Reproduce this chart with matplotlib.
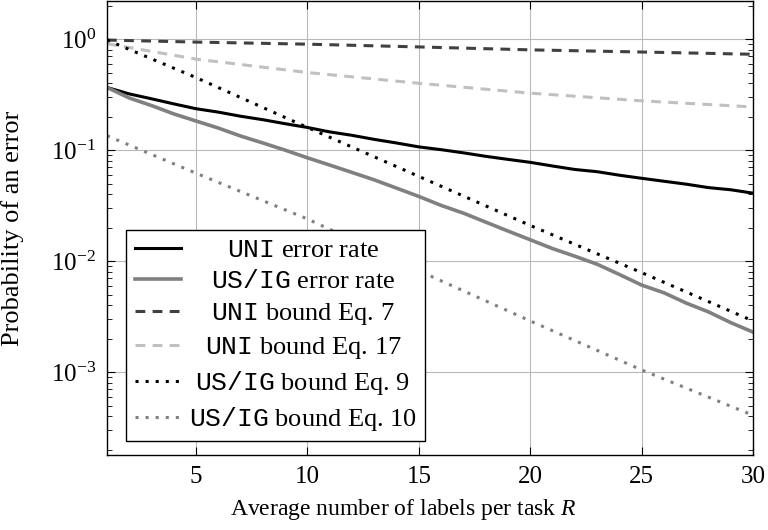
import numpy as np
import matplotlib
matplotlib.use('Agg')
import matplotlib.pyplot as plt
from matplotlib.offsetbox import TextArea
from matplotlib.transforms import Bbox
from matplotlib.ticker import LogLocator, NullFormatter

plt.rcParams['font.family'] = ['Liberation Serif', 'DejaVu Serif']
plt.rcParams['mathtext.fontset'] = 'custom'
plt.rcParams['mathtext.rm'] = 'Liberation Serif'
plt.rcParams['mathtext.it'] = 'Liberation Serif:italic'
plt.rcParams['mathtext.tt'] = 'Liberation Mono'
plt.rcParams['font.size'] = 18

# labels per task R
R = np.arange(1, 31)
uni_err = [0.367, 0.321, 0.29, 0.261, 0.236, 0.22, 0.202, 0.188, 0.173, 0.16,
           0.146, 0.136, 0.125, 0.116, 0.107, 0.101, 0.0946, 0.088, 0.0826, 0.0777,
           0.072, 0.067, 0.064, 0.0595, 0.0558, 0.0525, 0.0494, 0.046, 0.044, 0.041]
usig_err = [0.367, 0.295, 0.252, 0.212, 0.183, 0.158, 0.134, 0.116, 0.1, 0.0853,
            0.0734, 0.063, 0.054, 0.0455, 0.0383, 0.0318, 0.0271, 0.0225, 0.0187, 0.0156,
            0.013, 0.0111, 0.0094, 0.0076, 0.0061, 0.0052, 0.0042, 0.0035, 0.0028, 0.0023]

# bounds read at a few R values
R_b = [1, 5, 10, 15, 20, 25, 30]
uni_eq7 = [0.98, 0.94, 0.90, 0.85, 0.80, 0.765, 0.73]
uni_eq17 = [0.91, 0.66, 0.50, 0.40, 0.326, 0.278, 0.245]
usig_eq9 = [0.98, 0.45, 0.16, 0.058, 0.021, 0.0079, 0.0029]
usig_eq10 = [0.135, 0.062, 0.024, 0.0082, 0.0029, 0.00105, 0.00041]

fig = plt.figure(figsize=(7.68, 5.30), dpi=100)
ax = fig.add_axes([0.1393, 0.1415, 0.8412, 0.8565])

ax.plot(R, uni_err, color='black', lw=2.2, label=r'$\mathtt{UNI}$ error rate')
ax.plot(R, usig_err, color='#808080', lw=2.6, label=r'$\mathtt{US/IG}$ error rate')
ax.plot(R_b, uni_eq7, color='#404040', lw=2.2, dashes=(3.2, 2.4), label=r'$\mathtt{UNI}$ bound Eq. 7')
ax.plot(R_b, uni_eq17, color='#c0c0c0', lw=2.2, dashes=(3.2, 2.4), label=r'$\mathtt{UNI}$ bound Eq. 17')
ax.plot(R_b, usig_eq9, color='black', lw=2.2, dashes=(1, 2.3), label=r'$\mathtt{US/IG}$ bound Eq. 9')
ax.plot(R_b, usig_eq10, color='#808080', lw=2.2, dashes=(1, 2.3), label=r'$\mathtt{US/IG}$ bound Eq. 10')

ax.set_yscale('log')
ax.set_xlim(1, 30)
ax.set_ylim(1.8e-4, 2.2)
ax.set_xticks([5, 10, 15, 20, 25, 30])
ax.yaxis.set_major_locator(LogLocator(base=10, numticks=10))
ax.yaxis.set_minor_locator(LogLocator(base=10, subs=np.arange(2, 10), numticks=20))
ax.yaxis.set_minor_formatter(NullFormatter())
ax.tick_params(which='both', direction='in', top=True, right=True)
ax.tick_params(which='major', length=6, width=0.8, labelsize=18, pad=8)
ax.tick_params(which='minor', length=3.5, width=0.6)
ax.grid(True, which='major', color='#b8b8b8', lw=0.8)
for s in ax.spines.values():
    s.set_linewidth(1.0)

ax.set_xlabel(r'Average number of labels per task $R$', fontsize=17)
ax.set_ylabel('Probability of an error', fontsize=19)
ax.xaxis.set_label_coords(0.458, -0.0925)
ax.yaxis.set_label_coords(-0.128, 0.5)

leg = ax.legend(loc='lower left', bbox_to_anchor=(0.03, 0.03), borderaxespad=0,
                fancybox=False, framealpha=1, edgecolor='black', fontsize=19,
                handlelength=1.75, handletextpad=0.3, labelspacing=0.3, borderpad=0.32)
leg.get_frame().set_linewidth(1.0)

# centre the legend texts in their column
fig.canvas.draw()
rend = fig.canvas.get_renderer()


def walk(box):
    for c in box.get_children():
        if isinstance(c, TextArea):
            yield c
        elif hasattr(c, 'get_children'):
            yield from walk(c)


areas = list(walk(leg._legend_box))
W = max(a.get_bbox(rend).width for a in areas)
for a in areas:
    def gb(renderer, f=a.get_bbox):
        b = f(renderer)
        return Bbox.from_bounds(b.x0 - (W - b.width) / 2, b.y0, W, b.height)
    a.get_bbox = gb

fig.savefig('out.png', dpi=100)
